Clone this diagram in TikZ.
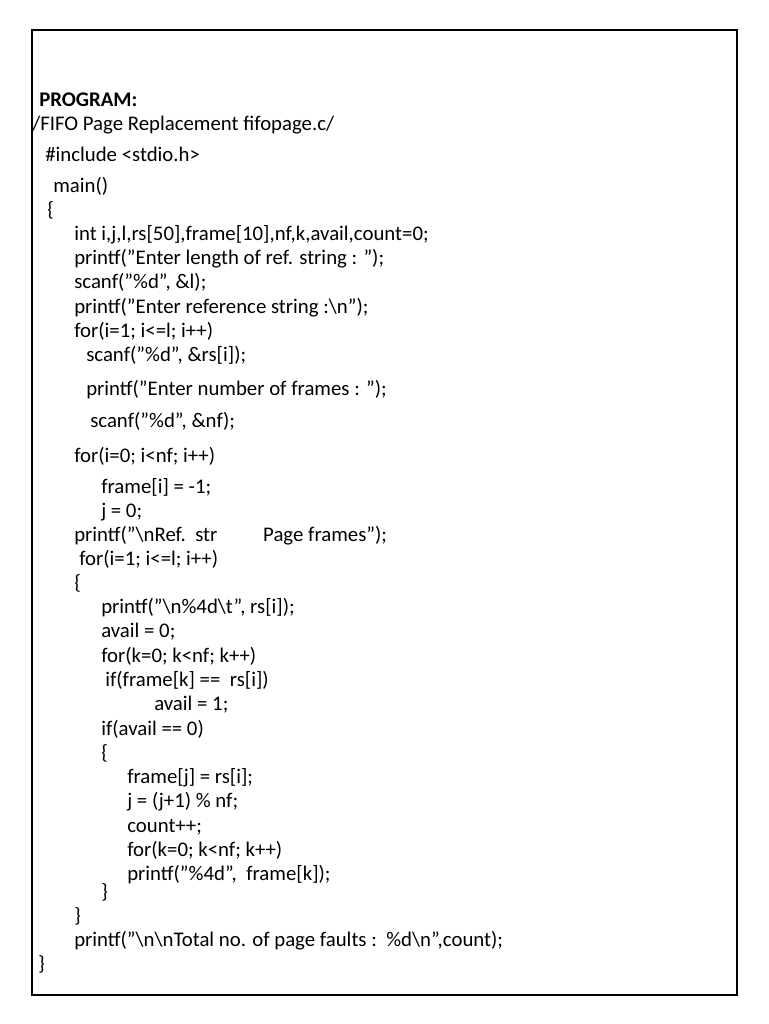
\documentclass[tikz,border=0pt]{standalone}
\usepackage{fontspec}
\setmainfont{Carlito}
\newcommand{\bs}{\textbackslash}
\newcommand{\dq}{\char34{}}
\begin{document}
\begin{tikzpicture}[x=0.75pt,y=-0.75pt]
\tikzset{code/.style={anchor=base west,inner sep=0,font=\fontsize{15.6pt}{17pt}\selectfont}}
\useasboundingbox (0,0) rectangle (768,1024);
\draw[line width=0.8pt] (32,30) rectangle (737,995);
\node[code,font=\fontsize{15.6pt}{17pt}\selectfont\bfseries] (l1) at (39,106) {PROGRAM:};
\node[code] (l2) at (32,130) {/FIFO Page Replacement fifopage.c/};
\node[code] (l3) at (45,161) {\#include <stdio.h>};
\node[code] (l4) at (53,192) {main()};
\node[code] (l5) at (47,216) {\{};
\node[code] (l6) at (74,240) {int i,j,l,rs[50],frame[10],nf,k,avail,count=0;};
\node[code] (l7) at (74,264) {printf(\dq Enter length of ref. string : \dq);};
\node[code] (l8) at (74,288) {scanf(\dq\%d\dq, \&l);};
\node[code] (l9) at (74,313) {printf(\dq Enter reference string :\bs n\dq);};
\node[code] (l10) at (74,337) {for(i=1; i<=l; i++)};
\node[code] (l11) at (86,361) {scanf(\dq\%d\dq, \&rs[i]);};
\node[code] (l12) at (86,395) {printf(\dq Enter number of frames : \dq);};
\node[code] (l13) at (90,427) {scanf(\dq\%d\dq, \&nf);};
\node[code] (l14) at (74,462) {for(i=0; i<nf; i++)};
\node[code] (l15) at (101,493) {frame[i] = -1;};
\node[code] (l16) at (101,517) {j = 0;};
\node[code] (l17) at (74,541) {printf(\dq\bs nRef.\ \ str\hspace{2.2em}Page frames\dq);};
\node[code] (l18) at (79,565) {for(i=1; i<=l; i++)};
\node[code] (l19) at (74,589) {\{};
\node[code] (l20) at (101,613) {printf(\dq\bs n\%4d\bs t\dq, rs[i]);};
\node[code] (l21) at (101,637) {avail = 0;};
\node[code] (l22) at (101,662) {for(k=0; k<nf; k++)};
\node[code] (l23) at (105,686) {if(frame[k] ==\ \ rs[i])};
\node[code] (l24) at (154,710) {avail = 1;};
\node[code] (l25) at (101,735) {if(avail == 0)};
\node[code] (l26) at (101,759) {\{};
\node[code] (l27) at (127,783) {frame[j] = rs[i];};
\node[code] (l28) at (127,807) {j = (j+1) \% nf;};
\node[code] (l29) at (127,832) {count++;};
\node[code] (l30) at (127,856) {for(k=0; k<nf; k++)};
\node[code] (l31) at (127,880) {printf(\dq\%4d\dq,\ \ frame[k]);};
\node[code] (l32) at (101,898) {\}};
\node[code] (l33) at (74,922) {\}};
\node[code] (l34) at (74,946) {printf(\dq\bs n\bs nTotal no. of page faults :\ \ \%d\bs n\dq,count);};
\node[code] (l35) at (38,970) {\}};
\end{tikzpicture}
\end{document}
